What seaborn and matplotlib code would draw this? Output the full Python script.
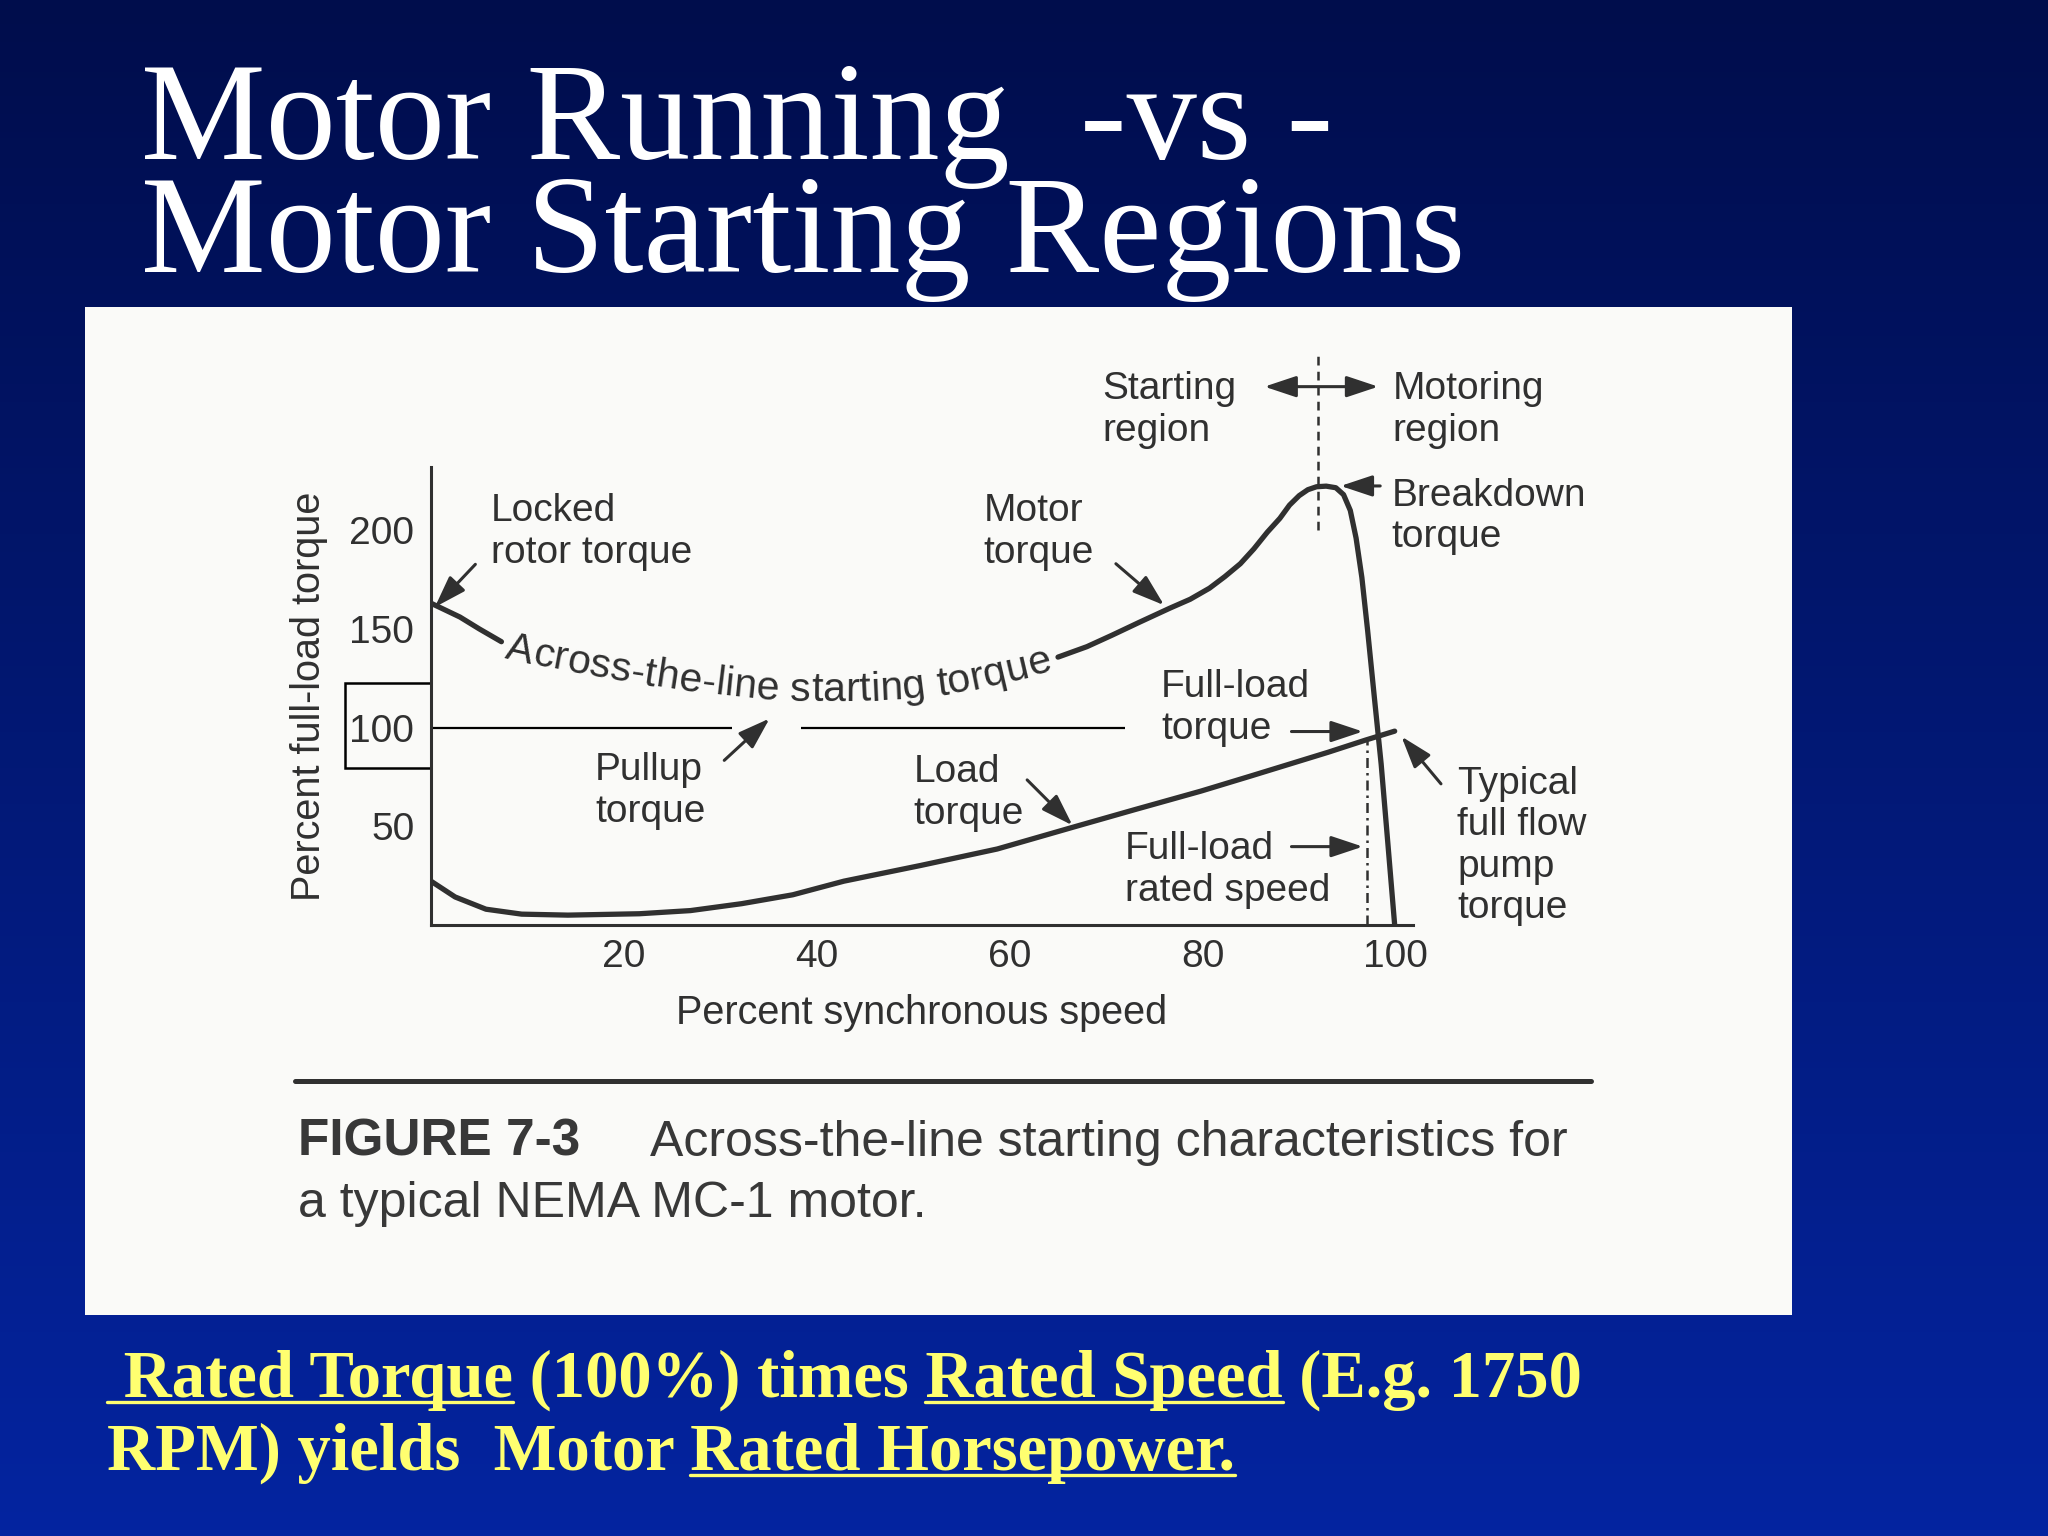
import numpy as np
import pandas as pd
import matplotlib
matplotlib.use('Agg')
import matplotlib.pyplot as plt
import seaborn as sns
from matplotlib.patches import Rectangle
from matplotlib.lines import Line2D
from matplotlib.colors import LinearSegmentedColormap
from matplotlib.transforms import IdentityTransform

#%% data (percent synchronous speed / percent full-load torque)
motor_speed_start = [0, 1.5, 3, 5, 7.3]
motor_torque_start = [163, 159.5, 156, 150, 143.5]

motor_speed_run = [65, 68, 70.6, 73.5, 76.6, 78.7, 80.7, 82.3, 83.9, 85.3, 86.7, 88, 89,
                   90, 90.9, 91.8, 92.8, 93.8, 94.6, 95.3, 95.9, 96.5, 97.1, 97.8, 98.5, 99.2, 99.9]
motor_torque_run = [135.7, 141, 146.8, 153.5, 160.5, 165, 170.6, 176.5, 183, 190.5, 199, 206, 212.7,
                    217.5, 220.5, 222, 222.3, 221.5, 218, 210, 196, 176, 149, 115, 81.5, 41, 0]

load_speed = [0, 2.5, 5.7, 9.4, 14.2, 21.6, 26.9, 32.2, 37.5, 42.8, 50.8, 58.7, 66.6,
              73, 79.8, 85, 89, 93, 96.9, 99.9]
load_torque = [22.2, 14.2, 8, 5.5, 5, 5.7, 7.3, 10.8, 15.3, 22.2, 30.2, 38.5, 49.6,
               58.5, 67.8, 75.5, 81.5, 87.5, 93.7, 98.2]

breakdown_speed = 92
rated_speed = 97
rated_speed_torque = 93
full_load_torque = 100

x_ticks = [20, 40, 60, 80, 100]
y_ticks = [50, 100, 150, 200]

title_text = 'Motor Running  -vs -\nMotor Starting Regions'
caption_tag = 'FIGURE 7-3'
caption_1 = 'Across-the-line starting characteristics for'
caption_2 = 'a typical NEMA MC-1 motor.'
curve_label = 'Across-the-line starting torque'

#%% frames for seaborn
motor = pd.DataFrame({
    'speed': motor_speed_start + motor_speed_run,
    'torque': motor_torque_start + motor_torque_run,
    'seg': ['start'] * len(motor_speed_start) + ['run'] * len(motor_speed_run)})
load = pd.DataFrame({'speed': load_speed, 'torque': load_torque})

W, H = 2048, 1536
sns.set_theme(style='white')
plt.rcParams['font.family'] = ['Liberation Sans', 'DejaVu Sans']
ink = '#303030'

fig = plt.figure(figsize=(W / 100, H / 100), dpi=100)
renderer = fig.canvas.get_renderer()

def fx(x):
    return x / W

def fy(y):
    return 1 - y / H

def text_w(s, **kw):
    t = fig.text(0, 0, s, **kw)
    w = t.get_window_extent(renderer).width
    t.remove()
    return w

# background gradient
bg = fig.add_axes([0, 0, 1, 1], zorder=-10)
grad = np.linspace(0, 1, 256).reshape(-1, 1)
bg.imshow(grad, aspect='auto', extent=[0, 1, 0, 1],
          cmap=LinearSegmentedColormap.from_list('bg', ['#000d4c', '#0424a0']))
bg.axis('off')

# white figure panel
fig.patches.append(Rectangle((fx(85), fy(1315)), (1792 - 85) / W, (1315 - 307) / H,
                             transform=fig.transFigure, facecolor='#fafaf8',
                             edgecolor='none', zorder=-5))

#%% chart axes
ax = fig.add_axes([fx(431), fy(925), (1413 - 431) / W, (925 - 467) / H])
ax.patch.set_alpha(0)

sns.lineplot(data=motor, x='speed', y='torque', units='seg', estimator=None,
             color=ink, linewidth=3.8, ax=ax, legend=False, sort=False)
sns.lineplot(data=load, x='speed', y='torque', estimator=None,
             color=ink, linewidth=3.8, ax=ax, legend=False, sort=False)

ax.set_xlim(0, 101.8)
ax.set_ylim(0, 232)
for s in ['top', 'right']:
    ax.spines[s].set_visible(False)
for s in ['left', 'bottom']:
    ax.spines[s].set_linewidth(2.2)
    ax.spines[s].set_color(ink)
ax.set_xticks(x_ticks)
ax.set_yticks(y_ticks)
ax.tick_params(length=0, labelsize=28, colors=ink)
ax.tick_params(axis='x', pad=10)
ax.tick_params(axis='y', pad=12)
ax.set_xlabel('Percent synchronous speed', fontsize=28.5, color=ink, labelpad=14)
ax.set_ylabel('Percent full-load torque', fontsize=28.5, color=ink, labelpad=15)
ax.grid(False)

# reference lines
ax.hlines(full_load_torque, 0, 31.2, color='black', lw=1.6)
ax.hlines(full_load_torque, 38.4, 71.9, color='black', lw=1.6)
ax.plot([breakdown_speed, breakdown_speed], [200, 289], color=ink, lw=1.8,
        ls=(0, (3.5, 2.5)), clip_on=False)
ax.plot([rated_speed, rated_speed], [0, rated_speed_torque], color=ink, lw=1.8,
        ls=(0, (4, 2, 1, 2)), clip_on=False)
ax.add_patch(Rectangle((-8.9, 79.5), 8.9, 43.3, fill=False, edgecolor='black',
                       lw=1.8, clip_on=False))

def arrow(tail, tip, style='-|>'):
    ax.annotate('', xy=tip, xytext=tail, annotation_clip=False,
                arrowprops=dict(arrowstyle=style + ',head_length=0.75,head_width=0.25',
                                color=ink, lw=2.2, shrinkA=0, shrinkB=0,
                                mutation_scale=26))

def label(x, y, s):
    ax.text(x, y, s, fontsize=28, color=ink, ha='left', va='center',
            linespacing=1.2, clip_on=False)

label(6.2, 199, 'Locked\nrotor torque')
arrow((4.6, 182.7), (0.4, 161))
label(57.3, 199, 'Motor\ntorque')
arrow((71, 183), (76, 162))
label(69.6, 261, 'Starting\nregion')
label(99.7, 261, 'Motoring\nregion')
arrow((86.4, 272.7), (98.2, 272.7), style='<|-|>')
label(99.6, 207, 'Breakdown\ntorque')
arrow((98.4, 222.4), (94.3, 222.4))
label(75.7, 110, 'Full-load\ntorque')
arrow((89.2, 98), (96.6, 98))
label(106.4, 40, 'Typical\nfull flow\npump\ntorque')
arrow((104.7, 71.5), (100.6, 95.5))
label(17, 68, 'Pullup\ntorque')
arrow((30.4, 83.4), (35.1, 104.6))
label(50, 67, 'Load\ntorque')
arrow((61.8, 73.5), (66.5, 50.5))
label(71.9, 28, 'Full-load\nrated speed')
arrow((89.2, 39.7), (96.6, 39.7))

#%% curved label along the starting torque curve
base_x = [7.6, 13, 19, 25, 30, 34, 38, 44, 50, 54, 58, 61.5, 64.5]
base_y = [135.5, 129.5, 124, 119.5, 116.5, 114.5, 113.5, 113.2, 114.5, 117, 121, 125, 129]
pts = ax.transData.transform(np.c_[base_x, base_y])
seg = np.hypot(*np.diff(pts, axis=0).T)
cum = np.r_[0, np.cumsum(seg)]

fs_curve = 29.5
bar = text_w('|', fontsize=fs_curve)
offs = [text_w(curve_label[:i] + '|', fontsize=fs_curve) - bar for i in range(len(curve_label) + 1)]
scale = cum[-1] / offs[-1]

def at(d):
    d = min(max(d, 0), cum[-1] - 1e-6)
    k = np.searchsorted(cum, d, side='right') - 1
    k = min(k, len(seg) - 1)
    f = (d - cum[k]) / seg[k]
    p = pts[k] + f * (pts[k + 1] - pts[k])
    v = pts[k + 1] - pts[k]
    return p, np.degrees(np.arctan2(v[1], v[0]))

for i, ch in enumerate(curve_label):
    if ch == ' ':
        continue
    p, _ = at(offs[i] * scale)
    _, ang = at(0.5 * (offs[i] + offs[i + 1]) * scale)
    ax.text(p[0], p[1], ch, transform=IdentityTransform(), fontsize=fs_curve, color=ink,
            rotation=ang, rotation_mode='anchor', ha='left', va='baseline', clip_on=False)

#%% caption
fig.add_artist(Line2D([fx(295), fx(1591)], [fy(1081), fy(1081)], color=ink, lw=3.6))
fig.text(fx(298), fy(1156), caption_tag, fontsize=37, weight='bold', color='#383838', va='baseline')
fig.text(fx(650), fy(1156), caption_1, fontsize=36, color='#383838', va='baseline')
fig.text(fx(298), fy(1217), caption_2, fontsize=36, color='#383838', va='baseline')

#%% slide title: one two-line text, line gap tuned to the reference baselines (159 / 272 px)
title_kw = dict(fontsize=101, color='white', family=['Liberation Serif', 'DejaVu Serif'])
line1, line2 = title_text.split('\n')
y0 = 0.5 * H
t = fig.text(0, 0.5, line1, va='baseline', **title_kw)
asc1 = t.get_window_extent(renderer).y1 - y0
t.remove()
t = fig.text(0, 0.5, line2, va='baseline', **title_kw)
desc2 = y0 - t.get_window_extent(renderer).y0
t.remove()

best = None
for ls in np.arange(0.5, 1.4, 0.005):
    t = fig.text(0, 0.5, title_text, va='baseline', linespacing=ls, **title_kw)
    bb = t.get_window_extent(renderer)
    t.remove()
    b1, b2 = bb.y1 - asc1, bb.y0 + desc2
    err = abs((b1 - b2) - 113)
    if best is None or err < best[0]:
        best = (err, ls, b2 - y0)
_, ls_title, off2 = best
fig.text(fx(141), ((H - 272) - off2) / H, title_text, va='baseline',
         linespacing=ls_title, **title_kw)

#%% yellow footnote with underlined words
yellow = '#ffff70'
foot_kw = dict(fontsize=48, weight='bold', color=yellow, family=['Liberation Serif', 'DejaVu Serif'])
foot_lines = [
    (1397, [(' Rated Torque', True), (' (100%) times ', False), ('Rated Speed', True), (' (E.g. 1750', False)]),
    (1470, [('RPM) yields  Motor ', False), ('Rated Horsepower.', True)]),
]
dot = text_w('.', **foot_kw)
for yb, parts in foot_lines:
    full = ''.join(p for p, _ in parts)
    fig.text(fx(107), fy(yb), full, va='baseline', **foot_kw)
    pos = 0
    for p, u in parts:
        start = text_w(full[:pos] + '.', **foot_kw) - dot if pos else 0
        end = text_w(full[:pos + len(p)] + '.', **foot_kw) - dot
        if u:
            fig.add_artist(Line2D([fx(107 + start), fx(107 + end)], [fy(yb + 5), fy(yb + 5)],
                                  color=yellow, lw=2.4))
        pos += len(p)

fig.savefig('out.png', dpi=100)
